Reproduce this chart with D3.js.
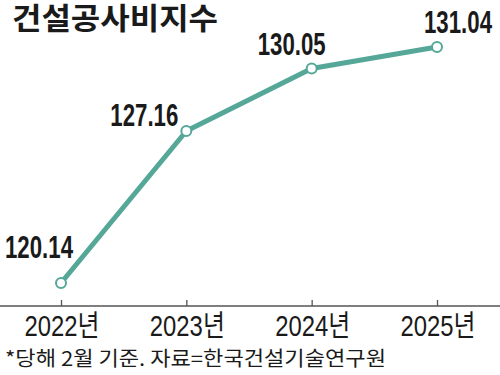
<!DOCTYPE html>
<html>
<head>
<meta charset="utf-8">
<script src="https://cdn.jsdelivr.net/npm/d3@7"></script>
<style>
  html, body { margin: 0; padding: 0; background: #fff; }
  svg { display: block; }
</style>
</head>
<body>
<div id="chart"></div>
<script>
// ---- data ----
const years = ["2022", "2023", "2024", "2025"];
const yearLabels = ["2022년", "2023년", "2024년", "2025년"];
const values = [120.14, 127.16, 130.05, 131.04];
const valueLabels = ["120.14", "127.16", "130.05", "131.04"];
const title = "건설공사비지수";
const note = "*당해 2월 기준. 자료=한국건설기술연구원";

// ---- layout (not data) ----
const W = 500, H = 375;
const labelDx = [-22, -42, -20, 21];
const labelDy = [-25, -5, -13, -14];
const teal = "#55a898";
const numFont = "'Liberation Sans Narrow', 'Liberation Sans', 'Noto Sans CJK KR', sans-serif";
const krFont = "'Noto Sans CJK KR', 'Noto Sans', sans-serif";

const svg = d3.select("#chart").append("svg")
  .attr("width", W).attr("height", H);

const x = d3.scalePoint().domain(years).range([61, 437]);
const y = d3.scaleLinear().domain([120.14, 131.04]).range([283, 47]);

// title
svg.append("text")
  .attr("x", 12).attr("y", 29)
  .attr("font-family", krFont)
  .attr("font-weight", 700)
  .attr("font-size", 30)
  .attr("textLength", 206)
  .attr("lengthAdjust", "spacingAndGlyphs")
  .attr("fill", "#1a1a1a")
  .text(title);

// x axis
const axisY = 306;
const xAxis = d3.axisTop(x).tickSize(6).tickFormat("");
const gAxis = svg.append("g").attr("transform", `translate(0,${axisY})`).call(xAxis);
gAxis.select(".domain").remove();
gAxis.selectAll(".tick line").attr("stroke", "#555").attr("stroke-width", 1.3);
svg.append("line")
  .attr("x1", 0).attr("x2", W).attr("y1", axisY).attr("y2", axisY)
  .attr("stroke", "#555").attr("stroke-width", 1.5);

// year labels
svg.append("g").selectAll("text").data(years).join("text")
  .attr("x", d => x(d) + 1)
  .attr("y", 336)
  .attr("text-anchor", "middle")
  .attr("font-family", numFont)
  .attr("font-size", 29)
  .attr("textLength", 75)
  .attr("lengthAdjust", "spacingAndGlyphs")
  .attr("fill", "#1a1a1a")
  .text((d, i) => yearLabels[i]);

// line
const pts = years.map((d, i) => ({ year: d, v: values[i], i }));
svg.append("path")
  .datum(pts)
  .attr("fill", "none")
  .attr("stroke", teal)
  .attr("stroke-width", 5)
  .attr("stroke-linejoin", "round")
  .attr("d", d3.line().x(d => x(d.year)).y(d => y(d.v)));

// points
svg.append("g").selectAll("circle").data(pts).join("circle")
  .attr("cx", d => x(d.year))
  .attr("cy", d => y(d.v))
  .attr("r", 5)
  .attr("fill", "#fff")
  .attr("stroke", teal)
  .attr("stroke-width", 2);

// value labels
svg.append("g").selectAll("text").data(pts).join("text")
  .attr("x", d => x(d.year) + labelDx[d.i])
  .attr("y", d => y(d.v) + labelDy[d.i])
  .attr("text-anchor", "middle")
  .attr("font-family", numFont)
  .attr("font-weight", 700)
  .attr("font-size", 31)
  .attr("textLength", 68)
  .attr("lengthAdjust", "spacingAndGlyphs")
  .attr("fill", "#1a1a1a")
  .text(d => valueLabels[d.i]);

// footnote
svg.append("text")
  .attr("x", 5).attr("y", 366)
  .attr("font-family", krFont)
  .attr("font-size", 20)
  .attr("textLength", 381)
  .attr("lengthAdjust", "spacingAndGlyphs")
  .attr("fill", "#1a1a1a")
  .text(note);
</script>
</body>
</html>
